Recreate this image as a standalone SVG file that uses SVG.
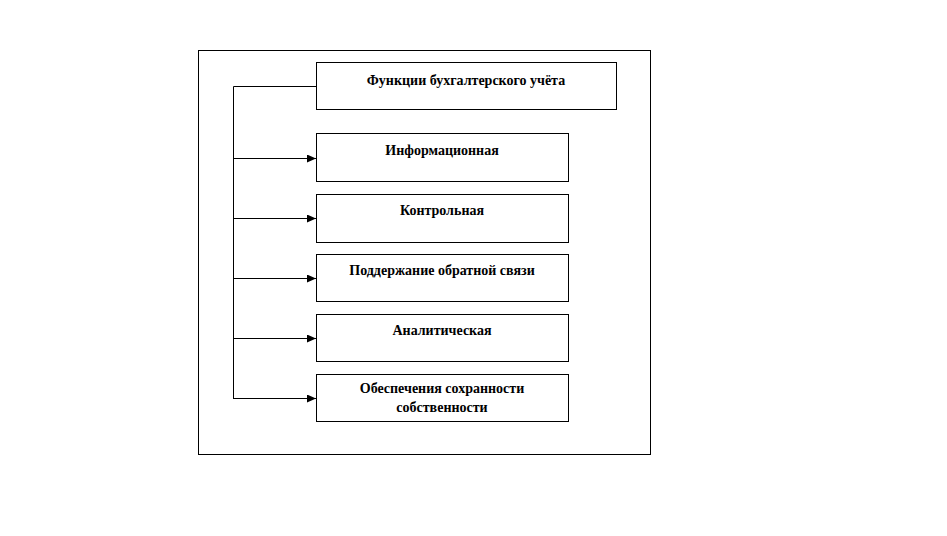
<svg xmlns="http://www.w3.org/2000/svg" width="947" height="536" viewBox="0 0 947 536">
<style>
.b{fill:#fff;stroke:#000;stroke-width:1}
.t{font-family:"Liberation Serif",serif;font-weight:bold;font-size:14px;text-anchor:middle}
.c{fill:none;stroke:#000;stroke-width:1}
</style>
<defs><marker id="a" markerWidth="10" markerHeight="8" refX="9" refY="4" orient="auto" markerUnits="userSpaceOnUse"><path d="M0,0L9,4L0,8z"/></marker></defs>
<rect width="947" height="536" fill="#fff"/>
<rect x="198.500" y="50.500" width="452" height="404" class="c"/>
<g id="connectors">
<path class="c" d="M316,86.500H233.500V398.500"/>
<path class="c" d="M233,158.500H316" marker-end="url(#a)"/>
<path class="c" d="M233,218.500H316" marker-end="url(#a)"/>
<path class="c" d="M233,278.500H316" marker-end="url(#a)"/>
<path class="c" d="M233,338.500H316" marker-end="url(#a)"/>
<path class="c" d="M233,398.500H316" marker-end="url(#a)"/>
</g>
<g id="root"><rect class="b" x="316.500" y="62.500" width="300" height="47"/><text class="t" x="466" y="85" font-size="16">Функции бухгалтерского учёта</text></g>
<g id="n1"><rect class="b" x="316.500" y="133.500" width="252" height="48"/><text class="t" x="442" y="155">Информационная</text></g>
<g id="n2"><rect class="b" x="316.500" y="194.500" width="252" height="48"/><text class="t" x="442" y="215">Контрольная</text></g>
<g id="n3"><rect class="b" x="316.500" y="254.500" width="252" height="47"/><text class="t" x="442" y="275">Поддержание обратной связи</text></g>
<g id="n4"><rect class="b" x="316.500" y="314.500" width="252" height="47"/><text class="t" x="442" y="335">Аналитическая</text></g>
<g id="n5"><rect class="b" x="316.500" y="374.500" width="252" height="47"/><text class="t" x="442" y="393">Обеспечения сохранности</text><text class="t" x="442" y="412">собственности</text></g>
</svg>
